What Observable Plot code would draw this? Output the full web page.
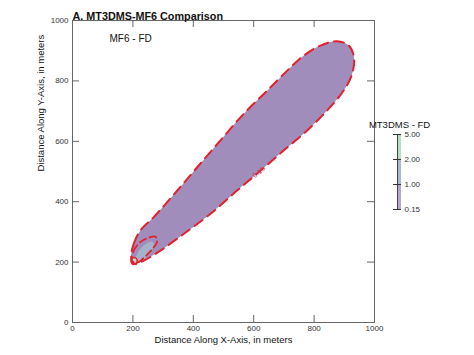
<!DOCTYPE html>
<html>
<head>
<meta charset="utf-8">
<script src="https://cdn.jsdelivr.net/npm/d3@7"></script>
<script src="https://cdn.jsdelivr.net/npm/@observablehq/plot@0.6"></script>
<style>
  html, body { margin: 0; padding: 0; background: #fff; }
  #wrap { position: relative; width: 474px; height: 355px; font-family: "Liberation Sans", Arial, sans-serif; }
  #wrap svg { position: absolute; }
</style>
</head>
<body>
<div id="wrap"></div>
<script>
// ---- text ----
const chartTitle = "A. MT3DMS-MF6 Comparison";
const panelLabel = "MF6 - FD";
const xLabel = "Distance Along X-Axis, in meters";
const yLabel = "Distance Along Y-Axis, in meters";
const legendTitle = "MT3DMS - FD";

// ---- axis ticks ----
const tickLabels = [0, 200, 400, 600, 800, 1000];
const tickMarks = [200, 400, 600, 800];

// ---- 0.15 contour (outer plume), data coords in meters ----
const outerX = [194, 203, 225, 269, 347, 413, 490, 567, 645, 711, 766, 821, 876, 915, 932, 926, 898, 843, 777, 700, 623, 545, 457, 369, 291, 236, 203];
const outerY = [216, 261, 305, 349, 437, 514, 603, 691, 768, 834, 884, 917, 931, 917, 878, 823, 768, 702, 636, 570, 503, 437, 360, 294, 238, 205, 194];

// ---- 1.00 zone (inner) ----
const innerX = [208, 212, 226, 246, 264, 270, 262, 244, 224];
const innerY = [202, 222, 246, 262, 268, 258, 238, 216, 202];
// 1.00 dashed contour
const inner1X = [197, 202, 222, 250, 275, 280, 265, 240, 214];
const inner1Y = [204, 236, 264, 280, 284, 268, 244, 218, 198];
// 2.00 tiny zone at the source
const coreX = [194, 196, 204, 212, 214, 208, 200];
const coreY = [206, 196, 192, 198, 208, 214, 214];

// contour label
const contourLabel = [{x: 617, y: 498, t: "0.15"}];

// ---- legend ----
const legendLabels = ["0.15", "1.00", "2.00", "5.00"];
const legendColors = ["#b5a5d1", "#a9b6da", "#b2dfc6"];

const outer = outerX.map((x, i) => ({x, y: outerY[i]}));
const inner = innerX.map((x, i) => ({x, y: innerY[i]}));
const inner1 = inner1X.map((x, i) => ({x, y: inner1Y[i]}));
const core = coreX.map((x, i) => ({x, y: coreY[i]}));

const red = "#e3202c";
const frameGray = "#666";
const font = "'Liberation Sans', Arial, sans-serif";
const innerSpan = 302 - 7; // inset that leaves a 7px inward tick

const main = Plot.plot({
  width: 474,
  height: 355,
  marginLeft: 72,
  marginRight: 100,
  marginTop: 20,
  marginBottom: 33,
  style: {fontFamily: font, background: "white", color: "#222"},
  x: {domain: [0, 1000]},
  y: {domain: [0, 1000]},
  marks: [
    Plot.line(outer, {x: "x", y: "y", curve: "catmull-rom-closed", fill: "#a08dbb", stroke: "none"}),
    Plot.line(inner, {x: "x", y: "y", curve: "catmull-rom-closed", fill: "#a4b3c9", stroke: "none"}),
    Plot.line(core, {x: "x", y: "y", curve: "catmull-rom-closed", fill: "#b9dcc0", stroke: red, strokeWidth: 1.5}),
    Plot.line(inner1, {x: "x", y: "y", curve: "catmull-rom-closed", stroke: red, strokeWidth: 1.8, strokeDasharray: "7,4"}),
    Plot.line(outer, {x: "x", y: "y", curve: "catmull-rom-closed", stroke: red, strokeWidth: 2, strokeDasharray: "10,6"}),
    Plot.text(contourLabel, {x: "x", y: "y", text: "t", rotate: -40, fontSize: 7, fill: "#c83a5a"}),
    Plot.frame({stroke: frameGray}),
    // inward ticks on all four sides
    Plot.ruleX(tickMarks, {x: d => d, insetTop: innerSpan, stroke: frameGray}),
    Plot.ruleX(tickMarks, {x: d => d, insetBottom: innerSpan, stroke: frameGray}),
    Plot.ruleY(tickMarks, {y: d => d, insetRight: innerSpan, stroke: frameGray}),
    Plot.ruleY(tickMarks, {y: d => d, insetLeft: innerSpan, stroke: frameGray}),
    // tick labels
    Plot.axisX({anchor: "bottom", ticks: tickLabels, tickSize: 0, tickPadding: 3, tickFormat: d => String(d), fontSize: 8, label: null, fill: "#333"}),
    Plot.axisY({anchor: "left", ticks: tickLabels, tickSize: 0, tickPadding: 4, tickFormat: d => String(d), fontSize: 8, label: null, fill: "#333"}),
    // titles
    Plot.text([chartTitle], {frameAnchor: "top-left", dy: -8, textAnchor: "start", fontWeight: "bold", fontSize: 10.8, fill: "#111"}),
    Plot.text([panelLabel], {frameAnchor: "top-left", dx: 37, dy: 14, textAnchor: "start", fontSize: 10, fill: "#111"}),
    Plot.text([xLabel], {frameAnchor: "bottom", dy: 20, fontSize: 9.5, fill: "#111"}),
    Plot.text([yLabel], {frameAnchor: "left", dx: -32, rotate: -90, fontSize: 9.5, fill: "#111"})
  ]
});

const legendData = legendColors.map((c, i) => ({i, c}));
const legend = Plot.plot({
  width: 110,
  height: 110,
  marginLeft: 42,
  marginRight: 64,
  marginTop: 24,
  marginBottom: 11,
  style: {fontFamily: font, background: "transparent", overflow: "visible"},
  x: {domain: [0, 1], axis: null},
  y: {domain: [0, legendLabels.length - 1], axis: null},
  marks: [
    Plot.rect(legendData, {x1: 0, x2: 1, y1: d => d.i, y2: d => d.i + 1, fill: "c"}),
    Plot.ruleX([0], {stroke: "#444", strokeWidth: 1}),
    Plot.tickY(legendLabels.map((t, i) => i), {y: d => d, stroke: "#333", insetLeft: -4}),
    Plot.text(legendLabels.map((t, i) => ({t, i})), {y: "i", text: "t", frameAnchor: "right", dx: 3, textAnchor: "start", fontSize: 8, fill: "#333"}),
    Plot.text([legendTitle], {frameAnchor: "top", dy: -13, fontSize: 9.5, fill: "#111"})
  ]
});

const wrap = document.getElementById("wrap");
main.style.left = "0px"; main.style.top = "0px";
legend.style.left = "355px"; legend.style.top = "110px";
wrap.appendChild(main);
wrap.appendChild(legend);
</script>
</body>
</html>
